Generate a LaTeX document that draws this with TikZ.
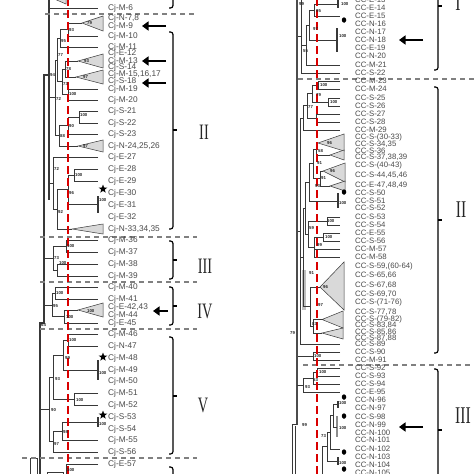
\documentclass[tikz,border=0pt]{standalone}
\usepackage{fontspec}
\setmainfont{Liberation Serif}
\setsansfont{Liberation Sans}
\usetikzlibrary{arrows.meta,shapes.geometric}

\definecolor{brn}{HTML}{383838}
\definecolor{lbl}{HTML}{4A4A4A}

\begin{document}
\begin{tikzpicture}[x=1pt,y=-1pt,
		br/.style={brn,line width=0.9pt},
		clps/.style={brn,fill=black!15,line width=0.5pt},
		leafL/.style={anchor=west,inner sep=0pt,text=lbl,font=\sffamily\fontsize{8.3}{8.3}\selectfont},
		leafR/.style={anchor=west,inner sep=0pt,text=lbl,font=\sffamily\fontsize{7.8}{7.8}\selectfont},
		bs/.style={anchor=west,inner sep=0pt,text=black!85,font=\sffamily\bfseries\fontsize{4.3}{4.3}\selectfont},
		brace/.style={black,line width=1.2pt,rounded corners=2.5pt},
		gdash/.style={black!50,line width=1.6pt,dash pattern=on 5pt off 4pt},
		rdash/.style={red!85!black,line width=1.5pt,dash pattern=on 8pt off 4pt},
		bigarrow/.style={black,line width=2.8pt,-{Triangle[length=6.5pt,width=9pt]}},
		numeral/.style={inner sep=0pt,text=black!85,font=\fontsize{22}{22}\selectfont,xscale=0.65},
		staricon/.style={star,star points=5,star point ratio=2.4,fill=black,inner sep=0pt,minimum size=9pt},
		doticon/.style={ellipse,fill=black,inner sep=0pt,minimum width=4.5pt,minimum height=5.5pt}]
	\useasboundingbox (0,0) rectangle (474,474);
	\clip (0,0) rectangle (474,474);
	\fill[white] (0,0) rectangle (474,474);

	% left tree
	\draw[clps] (52,-2) -- (66,-10) -- (66,4) -- cycle;
	\draw[br] (49,-2) -- (52,-2);
	\draw[br] (49,8) -- (98,8);
	\draw[clps] (82,23) -- (103,16) -- (103,31) -- cycle;
	\draw[br] (82,23) -- (68,23) -- (68,36) -- (98,36);
	\draw[br] (68,29.5) -- (60,29.5) -- (60,47) -- (98,47);
	\draw[clps] (78,61) -- (103,54) -- (103,68) -- cycle;
	\draw[clps] (76,77) -- (103,70) -- (103,84) -- cycle;
	\draw[br] (78,61) -- (65,61) -- (65,77) -- (76,77);
	\draw[br] (98,89) -- (68,89) -- (68,100) -- (98,100);
	\draw[br] (65,69) -- (62,69) -- (62,94.5) -- (68,94.5);
	\draw[br] (60,38.25) -- (57,38.25) -- (57,81.75) -- (62,81.75);
	\draw[br] (98,111) -- (79,111) -- (79,123) -- (98,123);
	\draw[br] (79,117) -- (68,117) -- (68,134) -- (98,134);
	\draw[clps] (78,146) -- (103,140) -- (103,152) -- cycle;
	\draw[br] (68,125.5) -- (59,125.5) -- (59,146) -- (78,146);
	\draw[br] (57,60) -- (55,60) -- (55,135.75) -- (59,135.75);
	\draw[br] (98,157) -- (53,157) -- (53,209.4) -- (57,209.4);
	\draw[br] (98,169) -- (74,169) -- (74,181) -- (98,181);
	\draw[br,line width=1.8pt] (98,196) -- (98,213);
	\draw[br] (74,175) -- (68,175) -- (68,204.5) -- (98,204.5);
	\draw[clps] (72,229) -- (103,224) -- (103,234) -- cycle;
	\draw[br] (68,189.75) -- (57,189.75) -- (57,229) -- (72,229);
	\draw[br] (49,97.9) -- (55,97.9);
	\draw[br] (49,183) -- (53,183);
	\draw[br,line width=1.6pt] (49,-5) -- (49,200);
	\draw[br,line width=1.2pt] (49,75) -- (44,75) -- (44,323) -- (40,323) -- (40,476);
	\draw[br] (98,240) -- (66,240) -- (66,252) -- (98,252);
	\draw[br] (98,264) -- (57,264) -- (57,276) -- (98,276);
	\draw[br] (66,246) -- (53,246) -- (53,270) -- (57,270);
	\draw[br] (44,258) -- (53,258);
	\draw[br] (98,287) -- (55,287) -- (55,299) -- (98,299);
	\draw[clps] (78,310) -- (103,303) -- (103,317) -- cycle;
	\draw[br] (78,310) -- (64,310) -- (64,323) -- (98,323);
	\draw[br] (55,293) -- (52,293) -- (52,316.5) -- (64,316.5);
	\draw[br] (44,305) -- (52,305);
	\draw[br] (98,334) -- (68,334) -- (68,346) -- (98,346);
	\draw[br,line width=1.8pt] (98,360) -- (98,380);
	\draw[br] (68,340) -- (63,340) -- (63,370) -- (98,370);
	\draw[br] (98,393) -- (74,393) -- (74,405) -- (98,405);
	\draw[br] (63,355) -- (53,355) -- (53,399) -- (74,399);
	\draw[br,line width=1.8pt] (98,417) -- (98,427);
	\draw[br] (98,422) -- (62,422) -- (62,440) -- (98,440);
	\draw[br] (62,431) -- (53,431) -- (53,452) -- (98,452);
	\draw[br] (53,377) -- (49,377) -- (49,441.5) -- (53,441.5);
	\draw[br] (40,409) -- (49,409);
	\draw[br] (98,464) -- (66,464) -- (66,476);
	\draw[br] (47,476) -- (47,472) -- (63,472) -- (63,476);
	\draw[br] (30,476) -- (30,458) -- (37,458) -- (37,476);

	% right tree
	\draw[br,line width=1.8pt] (338,-3) -- (338,8);
	\draw[br] (338,4) -- (314,4) -- (314,16) -- (340,16);
	\draw[br,line width=1.8pt] (337,28) -- (337,52);
	\draw[br] (314,10) -- (309,10) -- (309,40) -- (337,40);
	\draw[br] (309,25) -- (306,25) -- (306,65) -- (340,65);
	\draw[br] (306,45) -- (301,45);
	\draw[br] (301,-5) -- (301,73) -- (340,73);
	\draw[br] (297,36) -- (301,36);
	\draw[br] (340,81) -- (318,81) -- (318,89) -- (340,89);
	\draw[br] (340,98) -- (328,98) -- (328,106) -- (340,106);
	\draw[br] (318,85) -- (312,85) -- (312,102) -- (328,102);
	\draw[br] (340,114) -- (316,114) -- (316,122) -- (340,122);
	\draw[br] (312,93.5) -- (307,93.5) -- (307,118) -- (316,118);
	\draw[br] (307,105.75) -- (303,105.75) -- (303,130) -- (340,130);
	\draw[clps] (318,143) -- (344,134) -- (344,151) -- cycle;
	\draw[clps] (330,155) -- (344,150) -- (344,160) -- cycle;
	\draw[br] (318,143) -- (316,143) -- (316,155) -- (330,155);
	\draw[clps] (323,171) -- (345,163) -- (345,182) -- cycle;
	\draw[clps] (330,186) -- (345,181) -- (345,191) -- cycle;
	\draw[br] (323,171) -- (320,171) -- (320,186) -- (330,186);
	\draw[br] (316,149) -- (313,149) -- (313,178.5) -- (320,178.5);
	\draw[br,line width=1.8pt] (338,193) -- (338,208);
	\draw[br] (313,163.75) -- (309,163.75) -- (309,201) -- (338,201);
	\draw[br] (340,217) -- (327,217) -- (327,225) -- (340,225);
	\draw[br] (340,233) -- (323,233) -- (323,241) -- (340,241);
	\draw[br] (340,249) -- (314,249);
	\draw[br] (323,237) -- (314,237) -- (314,257) -- (340,257);
	\draw[br] (327,221) -- (308,221) -- (308,247) -- (314,247);
	\draw[br] (309,182.4) -- (305,182.4) -- (305,234) -- (308,234);
	\draw[clps] (320,287) -- (344,262) -- (344,310) -- cycle;
	\draw[clps] (322,319.5) -- (343,311) -- (343,328) -- cycle;
	\draw[clps] (322,333) -- (343,328) -- (343,339) -- cycle;
	\draw[br] (322,319.5) -- (313,319.5) -- (313,333) -- (322,333);
	\draw[br] (320,287) -- (310,287) -- (310,326.25) -- (313,326.25);
	\fill[black!25] (302,270) rectangle (305.5,310);
	\draw[br] (305,208.2) -- (303,208.2) -- (303,306.6) -- (310,306.6);
	\draw[br] (303,118) -- (300,118) -- (300,344) -- (340,344);
	\draw[br] (300,257.4) -- (303,257.4);
	\draw[br] (297,231) -- (300,231);
	\draw[br] (340,352) -- (313,352) -- (313,360) -- (340,360);
	\draw[br] (297,356) -- (313,356);
	\draw[br,line width=2.2pt,black!70] (297,-5) -- (297,425);
	\draw[br] (340,368) -- (317,368) -- (317,376) -- (340,376);
	\draw[br] (317,372) -- (313,372) -- (313,384) -- (340,384);
	\draw[br] (313,378) -- (303,378) -- (303,392) -- (340,392);
	\draw[br] (297,385) -- (303,385);
	\draw[br,line width=1.8pt] (338,401) -- (338,408);
	\draw[br,line width=2pt,black!45] (337,416) -- (337,437);
	\draw[br] (338,404.5) -- (333,404.5) -- (333,427) -- (337,427);
	\draw[br] (333,415.75) -- (330,415.75) -- (330,449) -- (340,449);
	\draw[br,line width=1.8pt] (338,457) -- (338,465);
	\draw[br] (330,432.4) -- (327,432.4) -- (327,461) -- (338,461);
	\draw[br] (327,446.7) -- (322,446.7) -- (322,476);
	\draw[br] (292,476) -- (292,424) -- (297,424);
	\draw[br] (295,476) -- (295,426);

	% clade separators and reference lines
	\draw[gdash] (45,14) -- (197,14);
	\draw[gdash] (40,237) -- (197,237);
	\draw[gdash] (40,282) -- (197,282);
	\draw[gdash] (40,329) -- (197,329);
	\draw[gdash] (22,458) -- (197,458);
	\draw[gdash] (298,79) -- (474,79);
	\draw[gdash] (303,365) -- (474,365);
	\draw[rdash] (68,-2) -- (68,476);
	\draw[rdash] (317,-2) -- (317,476);

	% leaves
	\foreach \y/\t in {8/Cj-M-6, 18/{Cj-N-7,8}, 26/Cj-M-9, 36/Cj-M-10, 47/Cj-M-11, 53/Cj-E-12, 61/Cj-M-13,
			67/Cj-S-14, 74/{Cj-M-15,16,17}, 81/Cj-S-18, 89/Cj-M-19, 100/Cj-M-20, 111/Cj-S-21, 123/Cj-S-22,
			134/Cj-S-23, 146/{Cj-N-24,25,26}, 157/Cj-E-27, 169/Cj-E-28, 181/Cj-E-29, 193/Cj-E-30, 205/Cj-E-31,
			217/Cj-E-32, 229/{Cj-N-33,34,35}, 240/Cj-M-36, 252/Cj-M-37, 264/Cj-M-38, 276/Cj-M-39, 287/Cj-M-40,
			299/Cj-M-41, 307/{Cj-E-42,43}, 315/Cj-M-44, 323/Cj-E-45, 334/Cj-M-46, 346/Cj-N-47, 358/Cj-M-48,
			370/Cj-M-49, 381/Cj-M-50, 393/Cj-M-51, 405/Cj-M-52, 417/Cj-S-53, 429/Cj-S-54, 440/Cj-M-55,
			452/Cj-S-56, 464/Cj-E-57}
		\node[leafL] (cj\y) at (108,\y) {\t};
	\foreach \y/\t in {0/CC-E-13, 8/CC-E-14, 16/CC-E-15, 24/CC-N-16, 32/CC-N-17, 40/CC-N-18, 48/CC-E-19,
			56/CC-N-20, 65/CC-M-21, 73/CC-S-22, 81/CC-M-23, 89/CC-M-24, 98/CC-S-25, 106/CC-S-26, 114/CC-S-27,
			122/CC-S-28, 130/CC-M-29, 137/CC-S-(30-33), 144/{CC-S-34,35}, 151/CC-S-36, 157/{CC-S-37,38,39},
			165/CC-S-(40-43), 175/{CC-S-44,45,46}, 185/{CC-E-47,48,49}, 193/CC-S-50, 201/CC-S-51, 208/CC-S-52,
			217/CC-S-53, 225/CC-S-54, 233/CC-E-55, 241/CC-S-56, 249/CC-M-57, 257/CC-M-58, 266/{CC-S-59,(60-64)},
			275/{CC-S-65,66}, 285/{CC-S-67,68}, 294/{CC-S-69,70}, 302/CC-S-(71-76), 312/{CC-S-77,78},
			319/CC-S-(79-82), 325/{CC-S-83,84}, 332/{CC-S-85,86}, 338/{CC-S-87,88}, 344/CC-S-89, 352/CC-S-90,
			360/CC-M-91, 368/CC-S-92, 376/CC-S-93, 384/CC-S-94, 392/CC-E-95, 400/CC-N-96, 408/CC-N-97,
			417/CC-S-98, 425/CC-N-99, 433/CC-N-100, 440/CC-N-101, 449/CC-N-102, 457/CC-N-103, 465/CC-N-104,
			473/CC-N-105}
		\node[leafR] (cc\y) at (355,\y) {\t};

	% bootstrap values
	\foreach \x/\y/\t [count=\i] in {87/23/79, 69/30/93, 61/41/95, 58/55/77, 84/61/93, 66/69/78, 83/77/97,
			63/84/73, 69/94.5/100, 56/99/72, 80/115/100, 69/126/90, 83/146/97, 60/136/88, 50/75/94,
			54/169/72, 75/175/100, 69/193/96, 99/200/100, 58/212/92, 67/246/100, 59/263/100, 54/258/73,
			56/293/100, 53/306/95, 87/311/100, 66/317/100, 41/325/64, 69/340/100, 65/358/99, 99/373/100,
			55/379/93, 76/400/100, 51/410/90, 99/424/100, 63/432/98, 54/444/97, 67/470/100}
		\node[bs] (bsl\i) at (\x,\y) {\t};
	\foreach \x/\y/\t [count=\i] in {299/4/99, 341/4/100, 316/11/95, 313/29/97, 339/36/100, 303/51/55,
			320/85/100, 316/95/79, 330/102/100, 308/107/77, 327/143/96, 318/151/58, 317/163/91, 330/171/96,
			321/178/91, 315/186/93, 339/203/100, 327/221/100, 309/228/59, 325/237/100, 317/245/99,
			309/273/91, 323/287/96, 318/305/97, 312/324/83, 290/333/79, 314/356/100, 319/372/100,
			313/380/53, 305/387/93, 339/403/100, 339/428/100, 302/425/99, 321/436/73, 339/463/100}
		\node[bs] (bsr\i) at (\x,\y) {\t};

	% markers
	\node[staricon] (st1) at (103,189) {};
	\node[staricon] (st2) at (103,357) {};
	\node[staricon] (st3) at (103,415) {};
	\foreach \y [count=\i] in {20,192,397,416,452,469}
		\node[doticon] (dt\i) at (344,\y) {};

	% arrows
	\foreach \x/\y/\l [count=\i] in {142/26/24, 142/61/24, 142/83/24, 153/311/15, 399/40/24, 399/427/24} {
		\coordinate (tip\i) at (\x,\y);
		\draw[bigarrow] (tip\i) ++(\l,0) -- (tip\i);
	}

	% clade brackets
	\draw[brace] (173,-20) |- (169,8);
	\draw[brace] (169,32) -| (173,229) -- (169,229);
	\draw[brace] (173,130) -- (177,130);
	\draw[brace] (169,241) -| (173,279) -- (169,279);
	\draw[brace] (173,260) -- (177,260);
	\draw[brace] (169,287) -| (173,325) -- (169,325);
	\draw[brace] (173,306) -- (177,306);
	\draw[brace] (169,337) -| (173,454) -- (169,454);
	\draw[brace] (173,396) -- (177,396);
	\draw[brace] (169,467) -| (173,500);
	\draw[brace] (438,-20) |- (434,70);
	\draw[brace] (438,6) -- (442,6);
	\draw[brace] (434,87) -| (438,353) -- (434,353);
	\draw[brace] (438,220) -- (442,220);
	\draw[brace] (434,369) -| (438,500);
	\draw[brace] (438,430) -- (442,430);

	\node[numeral] (nII) at (204,132) {II};
	\node[numeral] (nIII) at (205,266) {III};
	\node[numeral] (nIV) at (205,311) {IV};
	\node[numeral] (nV) at (203,405) {V};
	\node[numeral,font=\fontsize{24}{24}\selectfont] (mI) at (458,3) {I};
	\node[numeral,font=\fontsize{24}{24}\selectfont] (mII) at (461,210) {II};
	\node[numeral,font=\fontsize{24}{24}\selectfont] (mIII) at (463,416) {III};
\end{tikzpicture}
\end{document}
